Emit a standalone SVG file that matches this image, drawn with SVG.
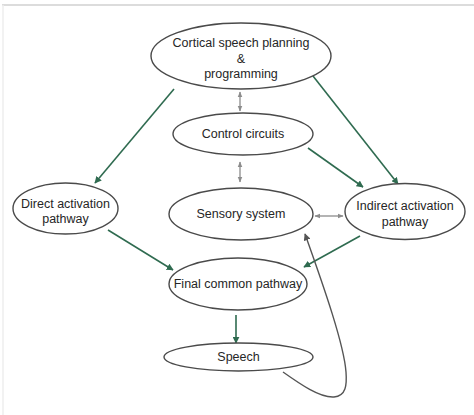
<svg xmlns="http://www.w3.org/2000/svg" width="474" height="415" viewBox="0 0 474 415">
  <style>
    .node ellipse { fill: #ffffff; stroke: #4a4a4a; stroke-width: 1.4; }
    .node text { font-family: "Liberation Sans", Arial, sans-serif; font-size: 12.5px; fill: #262626; text-anchor: middle; }
    .green { stroke: #2f6b50; stroke-width: 1.6; fill: none; marker-end: url(#ga); }
    .gray { stroke: #8c8c8c; stroke-width: 1.3; fill: none; marker-start: url(#gs); marker-end: url(#ge); }
    .fb { stroke: #555555; stroke-width: 1.4; fill: none; marker-end: url(#da); }
  </style>
  <defs>
    <marker id="ga" viewBox="0 0 10 10" refX="9" refY="5" markerWidth="7" markerHeight="7" markerUnits="userSpaceOnUse" orient="auto">
      <path d="M0,0 L10,5 L0,10 z" fill="#2f6b50"/>
    </marker>
    <marker id="ge" viewBox="0 0 10 10" refX="9" refY="5" markerWidth="6" markerHeight="6" markerUnits="userSpaceOnUse" orient="auto">
      <path d="M0,1 L10,5 L0,9 z" fill="#8c8c8c"/>
    </marker>
    <marker id="gs" viewBox="0 0 10 10" refX="1" refY="5" markerWidth="6" markerHeight="6" markerUnits="userSpaceOnUse" orient="auto">
      <path d="M10,1 L0,5 L10,9 z" fill="#8c8c8c"/>
    </marker>
    <marker id="da" viewBox="0 0 10 10" refX="9" refY="5" markerWidth="7" markerHeight="7" markerUnits="userSpaceOnUse" orient="auto">
      <path d="M0,0 L10,5 L0,10 z" fill="#555555"/>
    </marker>
  </defs>
  <rect x="0" y="0" width="474" height="415" fill="#ffffff"/>
  <line x1="2" y1="5" x2="474" y2="5" stroke="#dcdcdc" stroke-width="2"/>
  <line x1="3" y1="5" x2="3" y2="415" stroke="#eeeeee" stroke-width="1.5"/>

  <g id="connectors">
    <line class="green" x1="174" y1="89" x2="95" y2="183"/>
    <line class="green" x1="313" y1="76" x2="398" y2="184"/>
    <line class="green" x1="308" y1="148" x2="363" y2="187"/>
    <line class="green" x1="108" y1="230" x2="173" y2="270"/>
    <line class="green" x1="360" y1="236" x2="304" y2="267"/>
    <line class="green" x1="236" y1="315" x2="236" y2="343"/>
    <line class="gray" x1="240" y1="92" x2="240" y2="111"/>
    <line class="gray" x1="240" y1="162" x2="240" y2="182"/>
    <line class="gray" x1="315" y1="216" x2="343" y2="216"/>
    <path class="fb" d="M283 372 C300 384 320 398 334 397 C346 396 347 385 346 372 C344 345 325 290 305 234"/>
  </g>

  <g id="cortical" class="node">
    <ellipse cx="241" cy="56" rx="90" ry="33"/>
    <text x="241" y="47">Cortical speech planning</text>
    <text x="241" y="63">&amp;</text>
    <text x="241" y="78">programming</text>
  </g>
  <g id="control" class="node">
    <ellipse cx="243" cy="134" rx="70" ry="21"/>
    <text x="243" y="138">Control circuits</text>
  </g>
  <g id="direct" class="node">
    <ellipse cx="65.5" cy="208.5" rx="52.5" ry="25.5"/>
    <text x="65.5" y="208">Direct activation</text>
    <text x="65.5" y="223">pathway</text>
  </g>
  <g id="sensory" class="node">
    <ellipse cx="241" cy="214" rx="72" ry="26"/>
    <text x="241" y="218">Sensory system</text>
  </g>
  <g id="indirect" class="node">
    <ellipse cx="405" cy="211.5" rx="60" ry="28"/>
    <text x="405" y="210">Indirect activation</text>
    <text x="405" y="226">pathway</text>
  </g>
  <g id="final" class="node">
    <ellipse cx="238" cy="284" rx="69" ry="26"/>
    <text x="238" y="288">Final common pathway</text>
  </g>
  <g id="speech" class="node">
    <ellipse cx="238.5" cy="357" rx="74.5" ry="14"/>
    <text x="238.5" y="361">Speech</text>
  </g>
</svg>
